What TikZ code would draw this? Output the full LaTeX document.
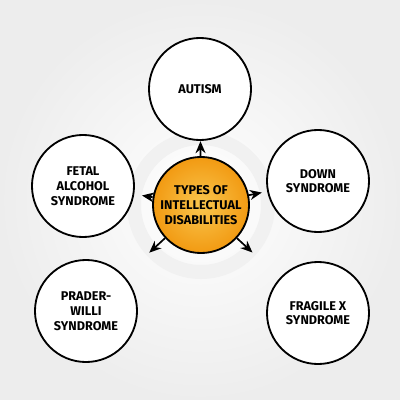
\documentclass[tikz,border=0pt]{standalone}
\usepackage{fontspec}
\setmainfont{Fira Sans}
\usepackage{tikz}
\usetikzlibrary{arrows.meta, positioning, calc}

\definecolor{orangeout}{HTML}{F29A12}
\definecolor{orangein}{HTML}{F9C64E}

\begin{document}
\begin{tikzpicture}[
    x=0.025cm, y=-0.025cm,
    every node/.style={font=\fontsize{9}{10.5}\selectfont\bfseries},
    bubble/.style={
        circle,
        draw=black,
        line width=1.3pt,
        fill=white,
        minimum size=2.55cm,
        inner sep=0pt,
        align=center
    },
    hubnode/.style={
        circle,
        draw=black,
        line width=1.3pt,
        shading=radial,
        inner color=orangein,
        outer color=orangeout,
        minimum size=2.4cm,
        inner sep=0pt,
        align=center
    },
    spoke/.style={-{Stealth[length=3mm, width=2.5mm]}, line width=1.2pt, black}
]

% background
\shade[inner color=white, outer color=gray!14] (0,0) rectangle (400,400);
\useasboundingbox (0,0) rectangle (400,400);
\fill[gray!11, even odd rule] (201,205) circle[radius=74] (201,205) circle[radius=60];

\node[hubnode] (hub) at (201,205) {TYPES OF\\INTELLECTUAL\\DISABILITIES};

\node[bubble] (autism) at (200,89) {AUTISM};
\node[bubble] (fetal) at (83,186) {FETAL\\ALCOHOL\\SYNDROME};
\node[bubble] (down) at (318,181) {DOWN\\SYNDROME};
\node[bubble] (prader) at (86,311) {PRADER-\\WILLI\\SYNDROME};
\node[bubble] (fragile) at (318,313) {FRAGILE X\\SYNDROME};

\coordinate (toautism) at ($(hub)!0.55!(autism)$);
\coordinate (tofetal) at ($(hub)!0.5!(fetal)$);
\coordinate (todown) at ($(hub)!0.52!(down)$);
\coordinate (toprader) at ($(hub)!0.45!(prader)$);
\coordinate (tofragile) at ($(hub)!0.44!(fragile)$);

\draw[spoke] (hub) -- (toautism);
\draw[spoke] (hub) -- (tofetal);
\draw[spoke] (hub) -- (todown);
\draw[spoke] (hub) -- (toprader);
\draw[spoke] (hub) -- (tofragile);

\end{tikzpicture}
\end{document}
